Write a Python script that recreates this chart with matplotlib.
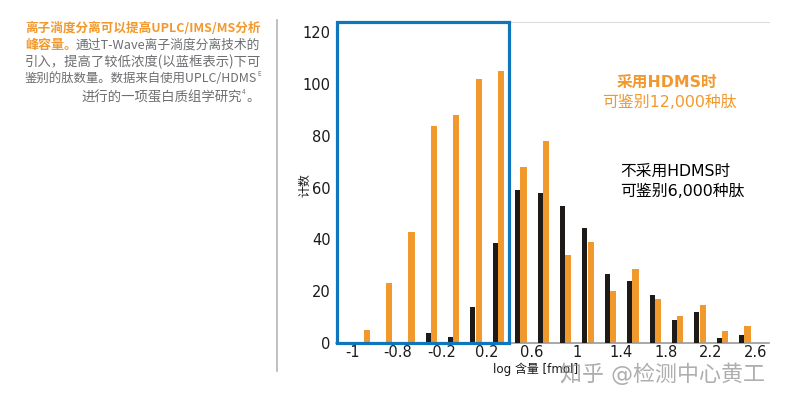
import numpy as np
import matplotlib
matplotlib.use('Agg')
import matplotlib.pyplot as plt
from matplotlib.patches import Rectangle

plt.rcParams['font.family'] = ['DejaVu Sans', 'Noto Sans CJK SC']

# 柱状图数据
orange_vals = [5, 23, 43, 84, 88, 102, 105, 68, 78, 34, 39, 20, 28.5, 17, 10.5, 14.5, 4.5, 6.5]
black_vals = [0, 0, 0, 4, 2.5, 14, 38.5, 59, 58, 53, 44.5, 26.5, 24, 18.5, 9, 12, 2, 3]
tick_labels = ['-1', '-0.8', '-0.2', '0.2', '0.6', '1', '1.4', '1.8', '2.2', '2.6']
y_ticks = [0, 20, 40, 60, 80, 100, 120]

ORANGE = '#F2992E'
BLACK = '#1E1A17'
BLUE = '#0F75BC'
GRAY = '#6D6E71'
CJK = ['Noto Sans CJK SC', 'DejaVu Sans']

W, H = 785, 405
fig = plt.figure(figsize=(W / 100, H / 100), dpi=100)
ax = fig.add_axes([336 / W, 1 - 343 / H, 433 / W, 321 / H])

x = np.arange(len(orange_vals))
ax.bar(x + 0.13, orange_vals, width=0.27, color=ORANGE, zorder=2)
ax.bar(x - 0.13, black_vals, width=0.22, color=BLACK, zorder=3)

ax.set_xlim(-1.24, 18.09)
ax.set_ylim(0, 124)
ax.set_yticks(y_ticks)
ax.set_xticks(np.arange(len(tick_labels)) * 2 - 0.5)
ax.set_xticklabels(tick_labels)
ax.tick_params(length=0, labelsize=10.5, colors='#1a1a1a')
ax.tick_params(axis='x', pad=1.5)
ax.tick_params(axis='y', pad=4)
for s in ['left', 'right']:
    ax.spines[s].set_visible(False)
ax.spines['bottom'].set_color('#999999')
ax.spines['bottom'].set_linewidth(1.2)
ax.spines['top'].set_color('#dddddd')

# 蓝框
ax.add_patch(Rectangle((-1.2, 0), 7.69, 124, fill=False, edgecolor=BLUE, linewidth=2.3,
                       clip_on=False, zorder=5))


def put(px, py, s, **kw):
    # 按像素位置放文字
    kw.setdefault('va', 'center')
    fig.text(px / W, 1 - py / H, s, **kw)


# 坐标轴标题
put(305, 185, '计数', rotation=90, ha='center', fontsize=8.6, color='#1a1a1a')
put(493, 369, 'log 含量 [fmol]', ha='left', fontsize=8.6, color='#1a1a1a')

# 图内注释
put(667, 82, '采用HDMS时', ha='center', fontsize=11.3, color=ORANGE, fontweight='bold')
put(669, 102, '可鉴别12,000种肽', ha='center', fontsize=11.4, color=ORANGE)
put(620, 171, '不采用HDMS时', ha='left', fontsize=11.3, color='black')
put(620, 191, '可鉴别6,000种肽', ha='left', fontsize=11.4, color='black')

# 左侧说明
put(25, 28, '离子淌度分离可以提高UPLC/IMS/MS分析', ha='left', fontsize=9.05, color=ORANGE,
    family=CJK, fontweight='bold')
put(25, 45, '峰容量。', ha='left', fontsize=9.4, color=ORANGE, family=CJK, fontweight='bold')
put(76, 45, '通过T-Wave离子淌度分离技术的', ha='left', fontsize=9.2, color=GRAY, family=CJK)
put(25, 62, '引入，提高了较低浓度(以蓝框表示)下可', ha='left', fontsize=9.6, color=GRAY, family=CJK)
put(25, 79, '鉴别的肽数量。数据来自使用UPLC/HDMS', ha='left', fontsize=8.95, color=GRAY, family=CJK)
put(257, 74, 'E', ha='left', fontsize=4.5, color=GRAY, family=CJK)
put(81, 97, '进行的一项蛋白质组学研究', ha='left', fontsize=9.6, color=GRAY, family=CJK)
put(242, 92, '4', ha='left', fontsize=4.5, color=GRAY, family=CJK)
put(246, 97, '。', ha='left', fontsize=9.6, color=GRAY, family=CJK)

# 分隔线
fig.add_artist(plt.Line2D([277 / W, 277 / W], [1 - 20 / H, 1 - 371 / H], color='#b5b5b5', linewidth=1.2))

# 水印
put(662, 374, '知乎 @检测中心黄工', ha='center', fontsize=15.8, color='#8c8c8c', alpha=0.7)

fig.savefig('out.png', dpi=100)
